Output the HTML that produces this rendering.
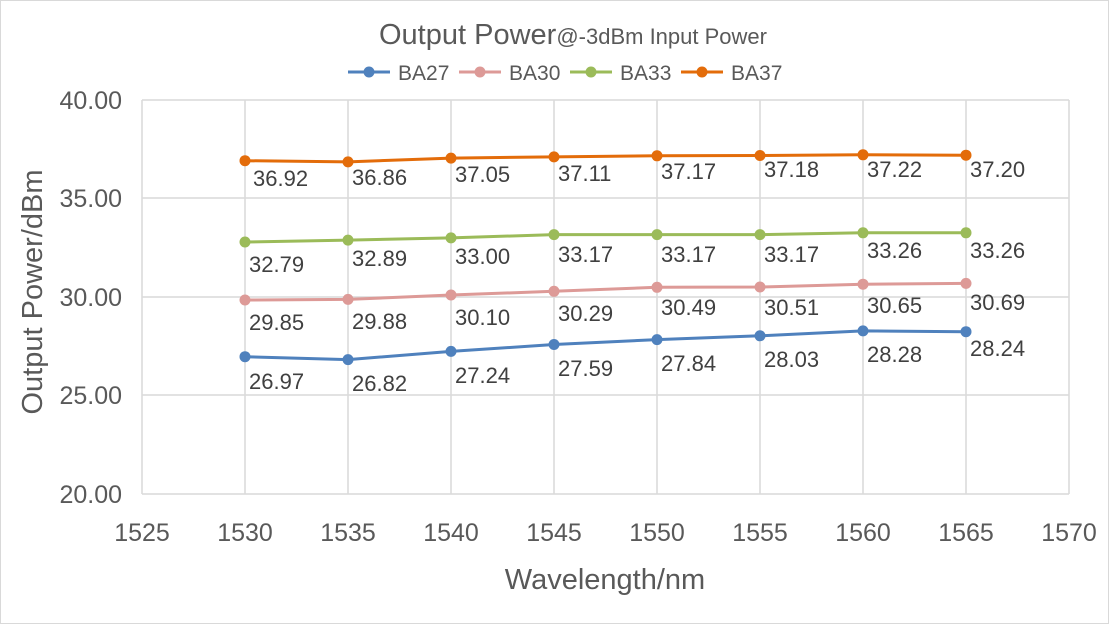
<!DOCTYPE html>
<html><head><meta charset="utf-8"><style>
body{margin:0;background:#fff}
svg{display:block;font-family:"Liberation Sans",sans-serif}
</style></head><body>
<svg width="1109" height="624" viewBox="0 0 1109 624">
<rect x="0.5" y="0.5" width="1108" height="623" fill="#fff" stroke="#d9d9d9"/>
<text x="573" y="44" text-anchor="middle" fill="#595959"><tspan font-size="29">Output Power</tspan><tspan font-size="22">@-3dBm Input Power</tspan></text>
<g font-size="21" fill="#595959">
<line x1="348" y1="72" x2="390" y2="72" stroke="#4f81bd" stroke-width="3"/><circle cx="369" cy="72" r="5.5" fill="#4f81bd"/><text x="398" y="80">BA27</text>
<line x1="459" y1="72" x2="501" y2="72" stroke="#dd9a97" stroke-width="3"/><circle cx="480" cy="72" r="5.5" fill="#dd9a97"/><text x="509" y="80">BA30</text>
<line x1="570" y1="72" x2="612" y2="72" stroke="#9bbb59" stroke-width="3"/><circle cx="591" cy="72" r="5.5" fill="#9bbb59"/><text x="620" y="80">BA33</text>
<line x1="681" y1="72" x2="723" y2="72" stroke="#e36c0a" stroke-width="3"/><circle cx="702" cy="72" r="5.5" fill="#e36c0a"/><text x="731" y="80">BA37</text>
</g>
<g stroke="#d9d9d9" stroke-width="1.5">
<line x1="142" y1="100" x2="1069" y2="100"/><line x1="142" y1="198" x2="1069" y2="198"/><line x1="142" y1="297" x2="1069" y2="297"/><line x1="142" y1="395" x2="1069" y2="395"/><line x1="142" y1="494" x2="1069" y2="494"/>
<line x1="142" y1="100" x2="142" y2="494"/><line x1="245" y1="100" x2="245" y2="494"/><line x1="348" y1="100" x2="348" y2="494"/><line x1="451" y1="100" x2="451" y2="494"/><line x1="554" y1="100" x2="554" y2="494"/><line x1="657" y1="100" x2="657" y2="494"/><line x1="760" y1="100" x2="760" y2="494"/><line x1="863" y1="100" x2="863" y2="494"/><line x1="966" y1="100" x2="966" y2="494"/><line x1="1069" y1="100" x2="1069" y2="494"/>
</g>
<g font-size="25" fill="#595959" text-anchor="end">
<text x="122" y="109">40.00</text><text x="122" y="207">35.00</text><text x="122" y="306">30.00</text><text x="122" y="404">25.00</text><text x="122" y="503">20.00</text>
</g>
<g font-size="25" fill="#595959" text-anchor="middle">
<text x="142" y="541">1525</text><text x="245" y="541">1530</text><text x="348" y="541">1535</text><text x="451" y="541">1540</text><text x="554" y="541">1545</text><text x="657" y="541">1550</text><text x="760" y="541">1555</text><text x="863" y="541">1560</text><text x="966" y="541">1565</text><text x="1069" y="541">1570</text>
</g>
<text x="605" y="589" font-size="29" fill="#595959" text-anchor="middle">Wavelength/nm</text>
<text transform="translate(42,292) rotate(-90)" font-size="29" fill="#595959" text-anchor="middle">Output Power/dBm</text>

<g fill="none" stroke-width="3" stroke-linejoin="round">
<polyline stroke="#4f81bd" points="245,356.7 348,359.6 451,351.4 554,344.5 657,339.6 760,335.8 863,330.9 966,331.7"/>
<polyline stroke="#dd9a97" points="245,300 348,299.4 451,295 554,291.3 657,287.3 760,287 863,284.2 966,283.4"/>
<polyline stroke="#9bbb59" points="245,242 348,240.1 451,237.9 554,234.6 657,234.6 760,234.6 863,232.8 966,232.8"/>
<polyline stroke="#e36c0a" points="245,160.7 348,161.9 451,158.1 554,156.9 657,155.8 760,155.5 863,154.8 966,155.2"/>
</g>
<g fill="#4f81bd"><circle cx="245" cy="356.7" r="5.5"/><circle cx="348" cy="359.6" r="5.5"/><circle cx="451" cy="351.4" r="5.5"/><circle cx="554" cy="344.5" r="5.5"/><circle cx="657" cy="339.6" r="5.5"/><circle cx="760" cy="335.8" r="5.5"/><circle cx="863" cy="330.9" r="5.5"/><circle cx="966" cy="331.7" r="5.5"/></g>
<g fill="#dd9a97"><circle cx="245" cy="300" r="5.5"/><circle cx="348" cy="299.4" r="5.5"/><circle cx="451" cy="295" r="5.5"/><circle cx="554" cy="291.3" r="5.5"/><circle cx="657" cy="287.3" r="5.5"/><circle cx="760" cy="287" r="5.5"/><circle cx="863" cy="284.2" r="5.5"/><circle cx="966" cy="283.4" r="5.5"/></g>
<g fill="#9bbb59"><circle cx="245" cy="242" r="5.5"/><circle cx="348" cy="240.1" r="5.5"/><circle cx="451" cy="237.9" r="5.5"/><circle cx="554" cy="234.6" r="5.5"/><circle cx="657" cy="234.6" r="5.5"/><circle cx="760" cy="234.6" r="5.5"/><circle cx="863" cy="232.8" r="5.5"/><circle cx="966" cy="232.8" r="5.5"/></g>
<g fill="#e36c0a"><circle cx="245" cy="160.7" r="5.5"/><circle cx="348" cy="161.9" r="5.5"/><circle cx="451" cy="158.1" r="5.5"/><circle cx="554" cy="156.9" r="5.5"/><circle cx="657" cy="155.8" r="5.5"/><circle cx="760" cy="155.5" r="5.5"/><circle cx="863" cy="154.8" r="5.5"/><circle cx="966" cy="155.2" r="5.5"/></g>

<g font-size="22" fill="#404040">
<text x="249" y="389">26.97</text><text x="352" y="391">26.82</text><text x="455" y="383">27.24</text><text x="558" y="376">27.59</text><text x="661" y="371">27.84</text><text x="764" y="367">28.03</text><text x="867" y="362">28.28</text><text x="970" y="356">28.24</text>
<text x="249" y="330">29.85</text><text x="352" y="329">29.88</text><text x="455" y="325">30.10</text><text x="558" y="321">30.29</text><text x="661" y="315">30.49</text><text x="764" y="315">30.51</text><text x="867" y="313">30.65</text><text x="970" y="310">30.69</text>
<text x="249" y="272">32.79</text><text x="352" y="266">32.89</text><text x="455" y="264">33.00</text><text x="558" y="262">33.17</text><text x="661" y="262">33.17</text><text x="764" y="262">33.17</text><text x="867" y="258">33.26</text><text x="970" y="258">33.26</text>
<text x="253" y="186">36.92</text><text x="352" y="185">36.86</text><text x="455" y="182">37.05</text><text x="558" y="181">37.11</text><text x="661" y="179">37.17</text><text x="764" y="177">37.18</text><text x="867" y="177">37.22</text><text x="970" y="177">37.20</text>
</g>
</svg>
</body></html>
